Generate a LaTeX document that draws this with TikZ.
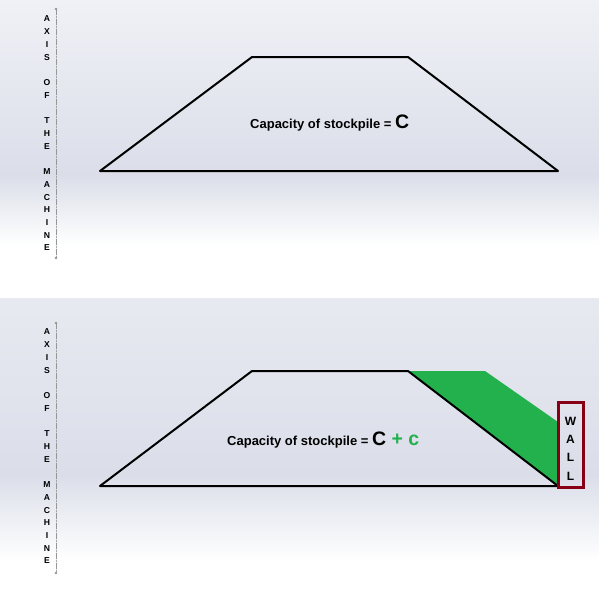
\documentclass[tikz,border=0pt]{standalone}
\usepackage{fontspec}
\setmainfont{Liberation Sans}
\usepackage{tikz}
\usetikzlibrary{arrows.meta,calc,positioning}
\definecolor{pilegreen}{RGB}{34,177,76}
\definecolor{wallred}{RGB}{136,0,21}
\definecolor{bggray}{RGB}{219,222,233}
\definecolor{bgtop}{RGB}{240,241,246}
\definecolor{axisgray}{RGB}{150,150,150}
\newcommand{\axisword}{A\\X\\I\\S\\~\\O\\F\\~\\T\\H\\E\\~\\M\\A\\C\\H\\I\\N\\E}

\begin{document}
\begin{tikzpicture}[x=1pt,y=-1pt,line cap=round,
  pile/.style={line width=2pt,line join=round},
  axisline/.style={axisgray,line width=.7pt,dash pattern=on 6pt off 1.5pt on 1pt off 1.5pt},
  axisdot/.style={circle,fill=axisgray,inner sep=0pt,minimum size=2.6pt},
  axisletters/.style={align=center,inner sep=0pt,font=\fontsize{8.6}{12.72}\selectfont\bfseries},
  caption/.style={inner sep=0pt,font=\fontsize{13}{15}\selectfont\bfseries}]
\useasboundingbox (0,0) rectangle (599,589);
% backgrounds of the two views
\shade[top color=bgtop,bottom color=bggray] (0,0) rectangle (599,175);
\shade[top color=bggray,bottom color=white] (0,175) rectangle (599,245);
\fill[white] (0,245) rectangle (599,298);
\shade[top color=bgtop!60!bggray,bottom color=bggray] (0,298) rectangle (599,475);
\shade[top color=bggray,bottom color=white] (0,475) rectangle (599,560);
\fill[white] (0,560) rectangle (599,589);

% upper view: stockpile without wall
\coordinate (t1) at (100,171);
\coordinate (t2) at (252,57);
\coordinate (t3) at (408,57);
\coordinate (t4) at (558,171);
\draw[pile] (t1)--(t2)--(t3)--(t4)--cycle;
\node[caption,anchor=base west] (cap1) at (250,128)
 {Capacity of stockpile = {\fontsize{19.5}{20}\selectfont C}};
\coordinate (ax1a) at (56,9);
\coordinate (ax1b) at (56,258);
\draw[axisline] (ax1a)--(ax1b);
\node[axisdot] (d1a) at (ax1a) {};
\node[axisdot] (d1b) at (ax1b) {};
\node[axisletters] (axis1) at (47,133.5) {\axisword};

% lower view: stockpile against the wall
\coordinate (b1) at (100,486);
\coordinate (b2) at (252,371);
\coordinate (b3) at (408,371);
\coordinate (b4) at (558,486);
\coordinate (g1) at (485,371);
\coordinate (g2) at (558,422);
\fill[pilegreen] (b3)--(g1)--(g2)--(b4)--cycle;
\draw[pile] (b1)--(b2)--(b3)--(b4)--cycle;
\node[caption,anchor=base west] (cap2) at (227,445)
 {Capacity of stockpile = {\fontsize{19.5}{20}\selectfont C
  \textcolor{pilegreen}{+ c}}};
\node[draw=wallred,line width=3pt,minimum width=25pt,minimum height=85pt,
 inner sep=0pt] (wall) at (570.5,444.5) {};
\node[align=center,inner sep=0pt,font=\fontsize{12}{18.3}\selectfont\bfseries]
 (walltext) at (570.5,448.5) {W\\A\\L\\L};
\coordinate (ax2a) at (56,323);
\coordinate (ax2b) at (56,573);
\draw[axisline] (ax2a)--(ax2b);
\node[axisdot] (d2a) at (ax2a) {};
\node[axisdot] (d2b) at (ax2b) {};
\node[axisletters] (axis2) at (47,446.5) {\axisword};
\end{tikzpicture}
\end{document}
